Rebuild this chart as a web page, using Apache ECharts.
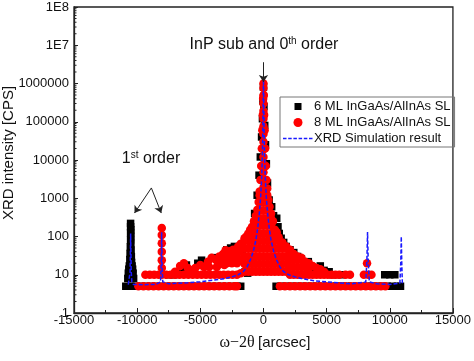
<!DOCTYPE html>
<html><head><meta charset="utf-8">
<script src="https://cdn.jsdelivr.net/npm/echarts@6/dist/echarts.min.js"></script>
<style>html,body{margin:0;padding:0;background:#fff}#c{width:474px;height:361px}</style>
</head><body><div id="c"></div>
<script>
// ---------------- data ----------------
const xRange = [-15000, 15000];
const yRange = [1, 1e8];
const yMinorTicks = [2,3,4,5,6,7,8,9, 20,30,40,50,60,70,80,90, 200,300,400,500,600,700,800,900,
  2000,3000,4000,5000,6000,7000,8000,9000, 20000,30000,40000,50000,60000,70000,80000,90000,
  2e5,3e5,4e5,5e5,6e5,7e5,8e5,9e5, 2e6,3e6,4e6,5e6,6e6,7e6,8e6,9e6, 2e7,3e7,4e7,5e7,6e7,7e7,8e7,9e7];
const seriesNames = ['6 ML InGaAs/AlInAs SL', '8 ML InGaAs/AlInAs SL', 'XRD Simulation result'];

// 6 ML sample (black squares)
const ml6Points = [
  [-10900,5],[-10500,5],[-10100,5],[-9700,5],[-9300,5],[-8900,5],[-8500,5],[-8100,5],[-7700,5],[-7300,5],
  [-6900,5],[-6500,5],[-6100,5],[-5700,5],[-5300,5],[-4900,5],[-4500,5],[-4100,5],[-3700,5],[-3300,5],
  [-2900,5],[-2500,5],[-2100,5],[-1800,5],
  [1000,5],[1400,5],[1800,5],[2200,5],[2600,5],[3000,5],[3400,5],[3800,5],[4200,5],[4600,5],[5000,5],
  [5400,5],[5800,5],[6200,5],[6600,5],[7000,5],[7400,5],[7800,5],[8200,5],[8600,5],[9000,5],[9400,5],
  [9800,5],[10200,5],[10600,5],[10850,5],
  [-10520,220],[-10520,180],[-10500,150],[-10520,125],[-10500,100],[-10520,82],[-10500,66],[-10540,54],
  [-10480,44],[-10560,36],[-10460,30],[-10580,25],[-10440,21],[-10620,17],[-10400,17],[-10660,14],
  [-10360,14],[-10700,11],[-10320,11],[-10740,8],[-10280,8],
  [-7500,10],[-7100,10],[-6400,15],[-6100,18],[-5800,13],[-5200,20],[-4900,24],[-4500,18],[-3900,28],
  [-3400,26],[-2900,45],[-2600,50],[-2300,55],[-2000,48],[-1700,40],[-1450,12],[-1250,11],
  [-900,150],[-700,400],[-500,1200],[-350,4000],[-250,12000],[-150,40000],[-80,120000],[-40,350000],
  [0,800000],[40,250000],[100,80000],[160,25000],[230,8000],[320,2500],[450,900],[650,600],[800,350],
  [1050,300],[1150,180],[1250,120],[1400,90],[1600,70],[1800,55],[2100,45],[2400,38],[2700,30],
  [3000,26],[3550,22],[3750,15],[4500,17],[4800,13],[5200,12],[5500,10],[6150,10],
  [9600,10],[10000,10],[10400,10]
];

// 8 ML sample (red circles): single points
const ml8Points = [
  [-9900,5],[-9500,5],[-9100,5],[-8700,5],[-8300,5],[-7900,5],[-7500,5],[-7100,5],[-6700,5],[-6300,5],
  [-5900,5],[-5500,5],[-5100,5],[-4700,5],[-4300,5],[-3900,5],[-3500,5],[-3100,5],[-2700,5],[-2300,5],[-2100,5],
  [1300,5],[1700,5],[2100,5],[2500,5],[2900,5],[3300,5],[3700,5],[4100,5],[4500,5],[4900,5],[5300,5],
  [5700,5],[6100,5],[6500,5],[6900,5],[7300,5],[7700,5],[8100,5],[8500,5],[8900,5],[9300,5],[9650,5],
  [-9350,10],[-9000,10],[-8650,10],[-8300,10],[-7700,10],[-7350,10],[-7000,10],[-6650,10],[-6300,10],
  [-5950,10],[-5600,10],[-5250,10],[-4900,10],[-4550,10],[-4200,10],[-3850,10],[-3500,10],[-3150,10],
  [-2800,10],[-2450,10],[-2100,10],[-1800,11],
  [-8050,10],[-8050,15],[-8050,24],[-8050,40],[-8050,67],[-8050,110],[-8050,167],
  [-7000,12],[-6600,17],[-6300,20],[-6000,15],[-5700,13],[-5400,15],[-5000,18],[-4700,16],[-4400,22],
  [-4100,28],[-3800,25],[-3500,30],[-3200,35],[-3000,44],[-2800,38],[-2600,42],[-2400,45],[-2200,40],
  [-2000,55],[-1800,65],[-4300,16],[-3700,16],[-3600,18],[-3300,20],[-3100,18],[-2900,20],[-2700,25],
  [-2500,20],[-2500,32],[-2300,25],[-2100,20],[-1900,25],[-1900,40],[-3000,28],[-2200,28],
  [-1350,100],[-1050,150],[-750,250],[-480,500],[-380,800],[-240,3000],[-180,7000],[-130,20000],
  [-90,60000],[-50,150000],[-25,400000],
  [25,500000],[50,150000],[90,60000],[130,20000],[180,7000],[240,3000],[390,900],[480,600],[750,250],[1050,130],
  [5400,10],[5700,10],[6000,10],[6500,10],[6850,10],[7950,10],[8300,10],[8550,10],[8200,20]
];
// 8 ML sample (red circles): stacked columns [x, [values]]
const ml8Columns = [
  [-1500, [12,19,30,48,76,90]],
  [-1200, [12,19,30,48,76,120]],
  [-900, [12,19,30,48,76,120,180]],
  [-600, [12,19,30,48,76,120,190,300,350]],
  [-300, [12,19,30,48,76,120,190,300,480,760,1200,1500]],
  [0, [12,19,30,48,76,120,190,300,480,760,1200,1900,3000,4800,7600,12000,19000,30000,48000,76000,120000,190000,300000,480000,760000,1000000]],
  [300, [12,19,30,48,76,120,190,300,480,760,1200,1800]],
  [600, [12,19,30,48,76,120,190,300,400]],
  [900, [12,19,30,48,76,120,150]],
  [1200, [12,19,30,48,76,95]],
  [1500, [12,19,30,48,70]],
  [1800, [12,19,30,48,55]],
  [2100, [10,16,25,40,45]],
  [2400, [10,16,25,35]],
  [2700, [10,16,25,30]],
  [3000, [10,16,25,28]],
  [3300, [10,16,22]],
  [3600, [10,15,20]],
  [3900, [10,17]],
  [4200, [10,15]],
  [4500, [10,14]],
  [4800, [10,12]],
  [5100, [10]]
];

// XRD simulation (blue dashed)
const simPoints = [
  [-10700,5.5],[-10600,6],[-10560,12],[-10530,50],[-10515,120],[-10500,50],[-10470,12],[-10420,6.5],
  [-10300,5.6],[-9500,5.5],[-8500,5.6],[-8150,6.5],[-8090,20],[-8060,130],[-8030,20],[-7970,6.5],
  [-7500,5.8],[-6000,6.2],[-5000,6.6],[-4000,7.2],[-3000,8],[-2500,8.8],[-2000,10],[-1600,12],
  [-1300,16],[-1000,26],[-800,42],[-600,80],[-450,170],[-330,400],[-230,1000],[-150,3000],[-90,12000],
  [-50,60000],[-25,300000],[-10,900000],[0,1300000],[10,900000],[25,300000],[50,60000],[90,12000],
  [150,3000],[230,1000],[330,400],[450,170],[600,80],[800,42],[1000,26],[1300,16],[1600,12],[2000,10],
  [2500,8.8],[3000,8],[4000,7],[5000,6.5],[6000,6.1],[7000,5.8],[8100,6.5],[8190,25],[8240,130],
  [8290,25],[8380,6.5],[9000,5.8],[10000,5.6],[10800,6],[10870,20],[10910,100],[10950,20],[11000,5.5]
];

// annotation arrows (data coordinates)
const arrows = [
  [[0, 3.6e6], [0, 1.1e6]],
  [[-8875, 1860], [-10210, 410]],
  [[-8875, 1860], [-8090, 410]]
];

// ---------------- chart ----------------
const SANS = '"Liberation Sans", Arial, sans-serif';
const SERIF = '"Liberation Serif", "Times New Roman", serif';
const ml8All = ml8Points.concat(ml8Columns.flatMap(c => c[1].map(v => [c[0], v])));

const chart = echarts.init(document.getElementById('c'), null, {renderer: 'canvas'});
chart.setOption({
  animation: false,
  backgroundColor: '#fff',
  textStyle: {fontFamily: SANS},
  grid: {left: 74, right: 18, top: 7, bottom: 48, show: true, borderColor: '#222', borderWidth: 1.3, backgroundColor: 'transparent'},
  xAxis: {
    type: 'value', min: xRange[0], max: xRange[1], interval: 5000,
    axisLine: {show: true, onZero: false, lineStyle: {color: '#222', width: 1.3}},
    axisTick: {show: true, inside: true, length: 5, lineStyle: {color: '#222', width: 1}},
    minorTick: {show: true, splitNumber: 2, length: 3, lineStyle: {color: '#222', width: 1}},
    axisLabel: {fontSize: 13, color: '#111', margin: 1, fontFamily: SANS, formatter: v => String(v)},
    splitLine: {show: false}
  },
  yAxis: {
    type: 'log', logBase: 10, min: yRange[0], max: yRange[1], splitNumber: 8,
    axisLine: {show: true, onZero: false, lineStyle: {color: '#222', width: 1.3}},
    axisTick: {show: true, inside: true, length: 4, lineStyle: {color: '#222', width: 1}},
    axisLabel: {fontSize: 13, color: '#111', margin: 5, fontFamily: SANS,
      formatter: v => (v >= 1e7 ? '1E' + Math.round(Math.log10(v)) : String(Math.round(v)))},
    splitLine: {show: false}
  },
  legend: {
    orient: 'vertical', left: 280, top: 97, padding: [3, 4, 2, 3], itemGap: 3,
    itemWidth: 30, itemHeight: 10, borderColor: '#777', borderWidth: 1,
    textStyle: {fontSize: 13, color: '#111', fontFamily: SANS, padding: [0, 0, 0, -4]},
    data: [
      {name: seriesNames[0], icon: 'path://M0,0M30,10M11.5,1.5H18.5V8.5H11.5Z'},
      {name: seriesNames[1], icon: 'path://M0,0M30,10M19.5,5A4.5,4.5,0,1,1,10.5,5A4.5,4.5,0,1,1,19.5,5Z'},
      {name: seriesNames[2], icon: 'path://M0,0M30,10M0,4.2H3.5V5.8H0ZM5.2,4.2H8.7V5.8H5.2ZM10.4,4.2H13.9V5.8H10.4ZM15.6,4.2H19.1V5.8H15.6ZM20.8,4.2H24.3V5.8H20.8ZM26,4.2H29.5V5.8H26Z'}
    ]
  },
  graphic: [
    {type: 'text', x: 9, y: 153, rotation: Math.PI / 2,
      style: {text: 'XRD intensity [CPS]', fontSize: 15, fontFamily: SANS, fill: '#111', align: 'center', verticalAlign: 'middle'}},
    {type: 'text', x: 265, y: 343,
      style: {text: '{g|ω−2θ} {s|[arcsec]}', align: 'center', verticalAlign: 'middle', fill: '#111',
        rich: {g: {fontSize: 16, fontFamily: SERIF, fill: '#111'}, s: {fontSize: 15, fontFamily: SANS, fill: '#111'}}}},
    {type: 'text', x: 264, y: 45,
      style: {text: '{a|InP sub and 0}{b|th}{a| order}', align: 'center', verticalAlign: 'middle', fill: '#111',
        rich: {a: {fontSize: 16, fontFamily: SANS, lineHeight: 18, fill: '#111'}, b: {fontSize: 10, fontFamily: SANS, verticalAlign: 'top', lineHeight: 12, fill: '#111'}}}},
    {type: 'text', x: 151, y: 159,
      style: {text: '{a|1}{b|st}{a| order}', align: 'center', verticalAlign: 'middle', fill: '#111',
        rich: {a: {fontSize: 16, fontFamily: SANS, lineHeight: 18, fill: '#111'}, b: {fontSize: 10, fontFamily: SANS, verticalAlign: 'top', lineHeight: 12, fill: '#111'}}}}
  ],
  series: [
    {name: seriesNames[0], type: 'scatter', data: ml6Points, symbol: 'rect', symbolSize: 7.5, z: 2,
      itemStyle: {color: '#000', opacity: 1}, silent: true},
    {name: seriesNames[1], type: 'scatter', data: ml8All, symbol: 'circle', symbolSize: 8.5, z: 3,
      itemStyle: {color: '#ff0000', opacity: 1}, silent: true},
    {name: seriesNames[2], type: 'line', data: simPoints, symbol: 'none', showSymbol: false, z: 4,
      lineStyle: {color: '#1a1aff', width: 1.5, type: [4, 2]}, itemStyle: {color: '#1a1aff'}, silent: true,
      markLine: {silent: true, symbol: ['none', 'arrow'], symbolSize: 7, label: {show: false},
        lineStyle: {color: '#222', width: 1, type: 'solid'},
        data: arrows.map(a => [{coord: a[0]}, {coord: a[1]}])}},
    {type: 'custom', silent: true, z: 6, clip: false,
      data: yMinorTicks.map(v => [xRange[0], v]),
      renderItem: (params, api) => {
        const p = api.coord([xRange[0], api.value(1)]);
        return {type: 'line', shape: {x1: p[0], y1: p[1], x2: p[0] + 2.5, y2: p[1]}, style: {stroke: '#222', lineWidth: 1}};
      }}
  ]
});
</script>
</body></html>
